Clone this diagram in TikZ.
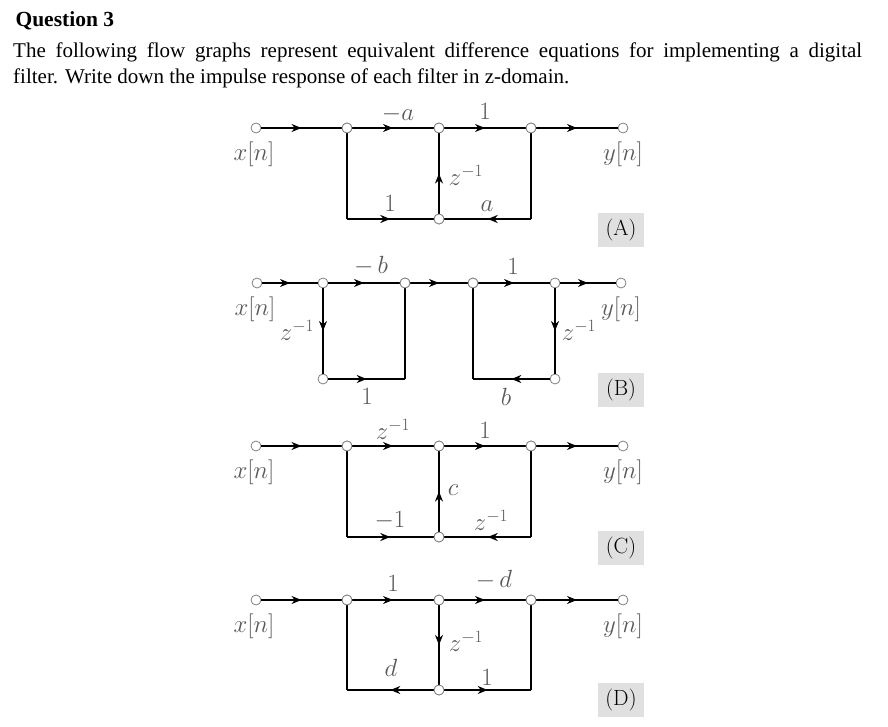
\documentclass[tikz,border=0pt]{standalone}
\usepackage{fontspec}
\setmainfont{Liberation Serif}
\newfontfamily\lmfont{Latin Modern Roman}
\usetikzlibrary{arrows.meta,decorations.markings}
\tikzset{
  pt/.style={circle,draw=gray,fill=white,inner sep=0pt,minimum size=10pt,line width=0.8pt},
  wire/.style={line width=2.6pt},
  mid/.style={wire,postaction={decorate,decoration={markings,mark=at position 0.5 with {\arrow{Stealth[length=10pt,width=8pt]}}}}},
  lbl/.style={text=black!65,font=\fontsize{24}{26}\selectfont},
  tag/.style={fill=black!12,minimum width=46pt,minimum height=34pt,inner sep=0pt,font=\lmfont\fontsize{22}{24}\selectfont}
}
\newcommand{\MyGraph}[3]{% prefix, y top, y bottom
  \node[pt] (#1i) at (256,#2) {};
  \node[pt] (#1a) at (347,#2) {};
  \node[pt] (#1b) at (439,#2) {};
  \node[pt] (#1c) at (531,#2) {};
  \node[pt] (#1o) at (623,#2) {};
  \node[pt] (#1d) at (439,#3) {};
  \coordinate (#1l) at (347,#3);
  \coordinate (#1r) at (531,#3);
  \draw[mid] (#1i) -- (#1a);
  \draw[mid] (#1c) -- (#1o);
  \node[lbl] (#1x) at (254,#2+26) {$x[n]$};
  \node[lbl] (#1y) at (623,#2+26) {$y[n]$};
}
\begin{document}
\begin{tikzpicture}[x=1pt,y=-1pt]
\useasboundingbox (0,0) rectangle (888,727);
\node[anchor=west,font=\bfseries\fontsize{21.5}{24}\selectfont] (title) at (12,21) {Question 3};
\node[anchor=west,inner sep=0pt,font=\fontsize{21}{26}\selectfont] (para1) at (13,52)
 {\makebox[849pt][s]{The following flow graphs represent equivalent difference equations for implementing a digital}};
\node[anchor=west,inner sep=0pt,font=\fontsize{21}{26}\selectfont] (para2) at (13,78)
 {filter. Write down the impulse response of each filter in z-domain.};

% (A)
\MyGraph{A}{128}{219}
\draw[mid] (Aa) -- (Ab);
\draw[mid] (Ab) -- (Ac);
\draw[wire] (Aa) -- (Al);
\draw[mid] (Al) -- (Ad);
\draw[wire] (Ac) -- (Ar);
\draw[mid] (Ar) -- (Ad);
\draw[mid] (Ad) -- (Ab);
\node[pt] at (Aa) {};\node[pt] at (Ab) {};\node[pt] at (Ac) {};\node[pt] at (Ad) {};
\node[lbl] (Al1) at (398,114) {$-a$};
\node[lbl] (Al2) at (485,111) {$1$};
\node[lbl] (Al3) at (466,175) {$z^{-1}$};
\node[lbl] (Al4) at (390,203) {$1$};
\node[lbl] (Al5) at (487,206) {$a$};
\node[tag] (At) at (621,230) {(A)};

% (B)
\node[pt] (Bi) at (257,283) {};
\node[pt] (Ba) at (323,283) {};
\node[pt] (Bb) at (405,283) {};
\node[pt] (Bc) at (473,283) {};
\node[pt] (Bd) at (555,283) {};
\node[pt] (Bo) at (621,283) {};
\node[pt] (Be) at (323,379) {};
\node[pt] (Bf) at (555,379) {};
\coordinate (Bl) at (405,379);
\coordinate (Br) at (473,379);
\draw[mid] (Bi) -- (Ba);
\draw[mid] (Ba) -- (Bb);
\draw[mid] (Bb) -- (Bc);
\draw[mid] (Bc) -- (Bd);
\draw[mid] (Bd) -- (Bo);
\draw[mid] (Ba) -- (Be);
\draw[mid] (Be) -- (Bl);
\draw[wire] (Bl) -- (Bb);
\draw[mid] (Bd) -- (Bf);
\draw[mid] (Bf) -- (Br);
\draw[wire] (Br) -- (Bc);
\node[pt] at (Bb) {};\node[pt] at (Bc) {};
\node[lbl] (Bx) at (255,309) {$x[n]$};
\node[lbl] (By) at (621,309) {$y[n]$};
\node[lbl] (Bl1) at (371,266) {$-\,b$};
\node[lbl] (Bl2) at (513,266) {$1$};
\node[lbl] (Bl3) at (297,330) {$z^{-1}$};
\node[lbl] (Bl4) at (579,330) {$z^{-1}$};
\node[lbl] (Bl5) at (367,396) {$1$};
\node[lbl] (Bl6) at (506,397) {$b$};
\node[tag] (Bt) at (621,390) {(B)};

% (C)
\MyGraph{C}{446}{537}
\draw[mid] (Ca) -- (Cb);
\draw[mid] (Cb) -- (Cc);
\draw[wire] (Ca) -- (Cl);
\draw[mid] (Cl) -- (Cd);
\draw[wire] (Cc) -- (Cr);
\draw[mid] (Cr) -- (Cd);
\draw[mid] (Cd) -- (Cb);
\node[pt] at (Ca) {};\node[pt] at (Cb) {};\node[pt] at (Cc) {};\node[pt] at (Cd) {};
\node[lbl] (Cl1) at (393,429) {$z^{-1}$};
\node[lbl] (Cl2) at (485,430) {$1$};
\node[lbl] (Cl3) at (453,490) {$c$};
\node[lbl] (Cl4) at (390,521) {$-1$};
\node[lbl] (Cl5) at (491,520) {$z^{-1}$};
\node[tag] (Ct) at (621,548) {(C)};

% (D)
\MyGraph{D}{600}{690}
\draw[mid] (Da) -- (Db);
\draw[mid] (Db) -- (Dc);
\draw[wire] (Da) -- (Dl);
\draw[mid] (Dd) -- (Dl);
\draw[wire] (Dc) -- (Dr);
\draw[mid] (Dd) -- (Dr);
\draw[mid] (Db) -- (Dd);
\node[pt] at (Da) {};\node[pt] at (Db) {};\node[pt] at (Dc) {};\node[pt] at (Dd) {};
\node[lbl] (Dl1) at (393,583) {$1$};
\node[lbl] (Dl2) at (494,580) {$-\,d$};
\node[lbl] (Dl3) at (466,641) {$z^{-1}$};
\node[lbl] (Dl4) at (391,668) {$d$};
\node[lbl] (Dl5) at (487,677) {$1$};
\node[tag] (Dt) at (621,700) {(D)};
\end{tikzpicture}
\end{document}
